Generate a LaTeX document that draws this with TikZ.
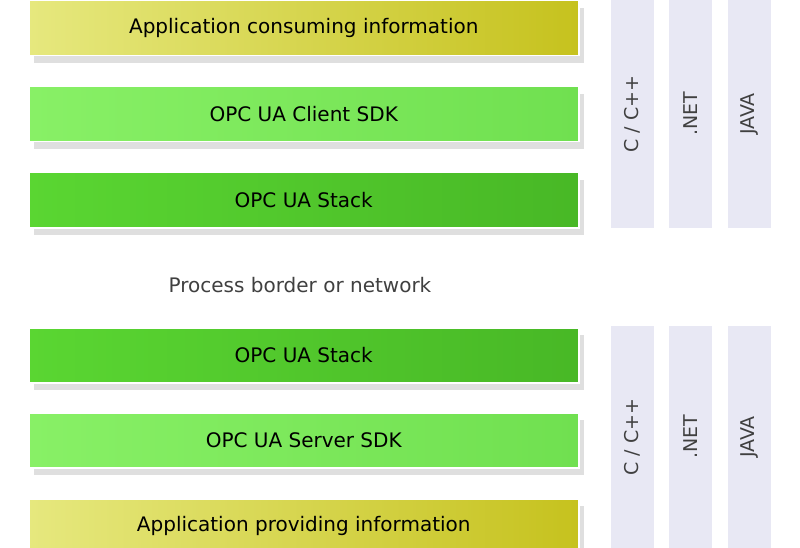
\documentclass[tikz,border=0pt]{standalone}
\usepackage{fontspec}
\setmainfont{DejaVu Sans}
\usetikzlibrary{shadows}
\definecolor{colbg}{HTML}{E8E8F4}
\definecolor{ylA}{HTML}{E6E87E}
\definecolor{ylB}{HTML}{C6C21E}
\definecolor{lgA}{HTML}{88F066}
\definecolor{lgB}{HTML}{70E050}
\definecolor{dgA}{HTML}{5AD632}
\definecolor{dgB}{HTML}{48B826}
\tikzset{
  x=1pt,y=-1pt,
  layer/.style={minimum width=550pt,minimum height=55pt,inner sep=0pt,anchor=north west,
    draw=white,line width=1.5pt,font=\fontsize{20}{24}\selectfont,
    drop shadow={shadow xshift=5pt,shadow yshift=-7pt,opacity=0.25,fill=black!50}},
  app/.style={layer,left color=ylA,right color=ylB},
  sdk/.style={layer,left color=lgA,right color=lgB},
  stk/.style={layer,left color=dgA,right color=dgB},
  langtxt/.style={rotate=90,font=\fontsize{19}{22}\selectfont,text=black!75}
}
\begin{document}
\begin{tikzpicture}
\useasboundingbox[fill=white] (0,0) rectangle (800,548);
\node[app] (a1) at (28,0) {Application consuming information};
\node[sdk] (c1) at (28,86) {OPC UA Client SDK};
\node[stk] (s1) at (28,172) {OPC UA Stack};
\node[font=\fontsize{20}{24}\selectfont,text=black!75] (pb) at (300,285) {Process border or network};
\node[stk] (s2) at (28,327) {OPC UA Stack};
\node[sdk] (c2) at (28,412) {OPC UA Server SDK};
\node[app] (a2) at (28,498) {Application providing information};
\foreach \n/\x/\t in {cu/611/{C / C++}, nu/669/.NET, ju/728/JAVA}{
  \fill[colbg] (\x,0) rectangle ++(43,228);
  \node[langtxt] (\n) at (\x+21.5,114) {\t};
}
\foreach \n/\x/\t in {cl/611/{C / C++}, nl/669/.NET, jl/728/JAVA}{
  \fill[colbg] (\x,326) rectangle ++(43,222);
  \node[langtxt] (\n) at (\x+21.5,437) {\t};
}
\end{tikzpicture}
\end{document}
